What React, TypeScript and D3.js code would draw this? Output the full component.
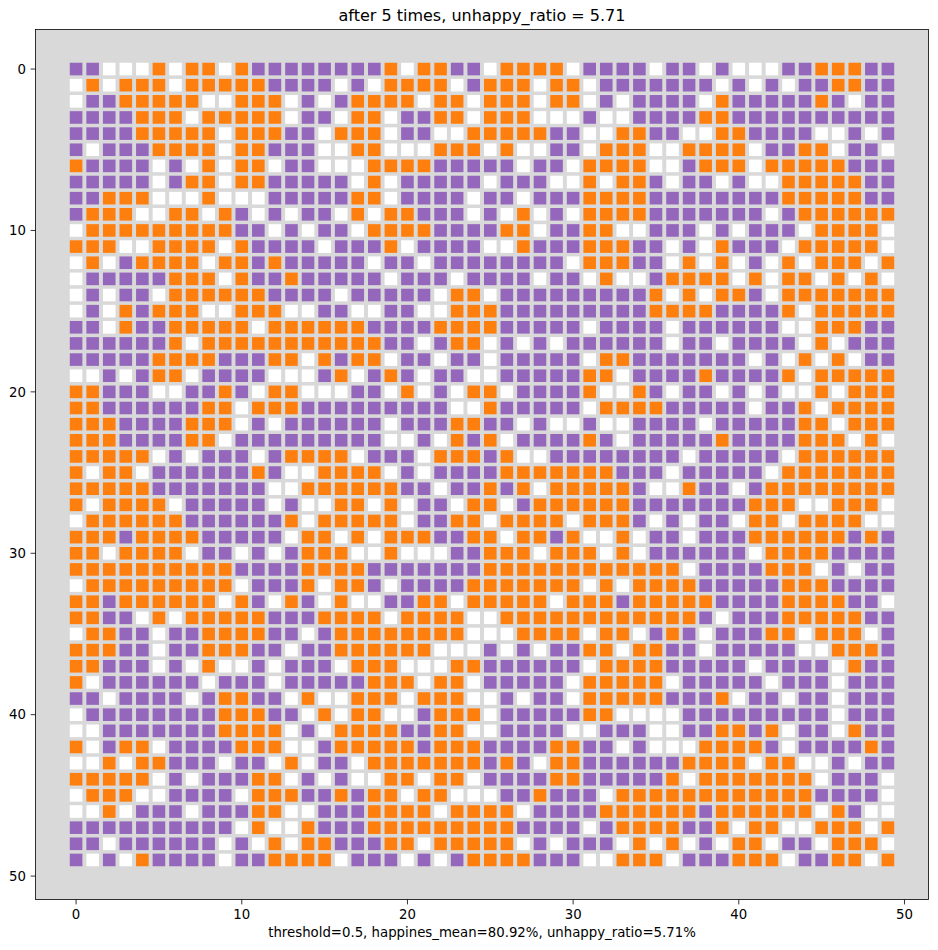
import React from "react";
import * as d3 from "d3";

// P = purple group, O = orange group, W = empty cell
const row00_12: string[] = [
  "PPWWWOWOOWOPPPPPP"+"PPOWOOPPWOOOOWPPP"+"PWPPWPWWWPPOOOPP",
  "WOWOOOWOOOOOPPPPW"+"PWOOOOWPOOOWOOWPP"+"PPPPPWPWPWPPOOPP",
  "WPPOOOOOWWOOOWPWP"+"OOOOWOOWOOOWOOWPW"+"PPPPWOPPPPPOPWPP",
  "PPPPOOOWOOOOOWPPW"+"OOWPPOOWOOOWWWPWW"+"PPPPOOPPPPPPPPPP",
  "PPPPOOOOOWOOOPPWO"+"OOWPPWWOOOOOPPWWO"+"OPPWWOOPPPPWWPWP",
  "PWPPPOOOOWOOPPPWW"+"OOWWWOOOWOWWPPWOO"+"OWWOOOOWPPOOWPPW",
  "OPPPPWPWOWOOWPPWW"+"WOOOOPPPPPWPPWOOO"+"OWWPOOOWOOOOOPPP",
  "PPPPPWPOOWOOPPPPP"+"WOWPPPPPWPPPWWOWO"+"OPWPPWPWWOOOOOPP",
  "PPOOOWWWOWWWPPPPP"+"OOWPPPPWPPWPPPOOO"+"OPPPPPPPPOOOOOPP",
  "POOOWWOOWOPWPWPPW"+"OWOOPPPWPWOWPWOOO"+"OPPPPPPPWPOOOOOO",
  "WOOOOOOOOOPPWPWPP"+"WOOOOPPPPOOWPPOOW"+"WPPPWPWPPPWOOOOW",
  "OOOWWOOOOWOPPPPWP"+"PPOWPPPPWWOPPPOOO"+"PPWPWOPPPWOOOOOW",
  "WOWPOOOOWOOPOPPPP"+"PWPPWPPPPPPPPWOOO"+"PPWOWOWPWOWOOOWO",
];
const row13_25: string[] = [
  "WPPPPPOOOWOPPOPPP"+"PPWPPPWPPPPWPPWOW"+"WPOOOOWOWOOWOWOW",
  "WPWPPWOOOOOOPPPPW"+"PPPPPWOOWPPPPPPPP"+"POWOWOOPWOOOOOOO",
  "WPWOPOOOWWOOOWWPP"+"WWPPWWOOOPPPPPPPP"+"POOOOPPPPOWOOOOO",
  "PPWOPPOOOOOWOOOOO"+"OPPPPOOOOPPPPPWPP"+"PPWPPPPPPWWOOOPP",
  "PPPPPPOWOOOOOOOOO"+"OOPPWPOOWPWPWPPPP"+"PPWPPWPPPPWOWPPP",
  "PPPPPOOOOPPPOOWOP"+"OOWPPWPPWPPPPPWOO"+"PPPPPPPWPWOWOWPP",
  "WWPWPOOWPPPPWWWPO"+"WPOPWPPWWPPPPPOOW"+"PPPPOPPPPOWOOOOO",
  "OOPPPWWPPOPWOOWWW"+"PPWOWPWOOWPPPPOWW"+"OPWPPWPWPWWOWOOO",
  "OOPPPPPPOOWOOOPPP"+"PPPPPPWWOPPPPPWOO"+"OOPPPPPWPPOWOOOO",
  "OOOPPPPOOOWPWPPPP"+"PPWPPPOOPPWPWWPWW"+"PPPPWPPPPPOOWOOO",
  "OOOPPPPOOWPPPPPPP"+"PPWWPWOPOWPPPPOPW"+"PPPPPOPPPPOOOWOW",
  "OOOOOWPWPPPWPOOOO"+"WPPPWOOOPOWWPPPPP"+"PPPWPPPPPWOOOOOO",
  "OWOOWPPPPPPOPWWOO"+"OOWPWPPPPOOOOOOOP"+"PPWPPPPPWOOOOOOO",
];
const row26_37: string[] = [
  "OOOOOPPPPPPPWWOOO"+"OOOPPWPPOPOWOOOOO"+"PWWOPPWPOOOOOOOO",
  "OWOOOOWPPPPPWPWWO"+"OWOWPPWOOWPOOOOOO"+"PPPPPPPOOOWWOOOW",
  "WOOOOOOPPPPPPOWOO"+"OOOWPPOOWOOOOWOOO"+"PWPWPPWOOWOOOOWW",
  "OOOPOOOOPPPPPWOOW"+"OWOOOPPOOWOOPOWWO"+"WPPWPPPOOOOOOPOP",
  "OOWOOOOWPPWPWPOOO"+"WWOWWWPPOOOWOOOWO"+"WPPPPPPWOOOOPPPP",
  "OOOOOOOOOOPPPPOOO"+"OPPPPPPPOOOOOOOOO"+"OOOWPPPPOOOWPWPP",
  "WOOOOOOOOOWPPPOWO"+"OPWPPPPOOOOOOOWOW"+"OOOOPPPPPOOOPPPP",
  "OOPOOOOOOWOPWOPWO"+"WWPPOOWOOOOOWOOOP"+"OOOOOPPPPOOOOPPW",
  "OOPPWOWOOOOOPPPOO"+"OOWOOOOWWOOOOOOOO"+"OOOOPWPPPOOOOOPP",
  "WOOPPWPPOOOOPPWPO"+"OOOOOOOWWWOOOOWOO"+"WPOPWPPPOOWOOOWP",
  "OOOPPWPPOOOPPWPPO"+"OOOOOWWWPWPWPPOOW"+"OOPPWPPPPPWWOOOP",
  "OOPPPWPWOWWPWPPPW"+"OOOWWWOOPPPPPPWOO"+"OOPPPPPWPPPPWOPP",
];
const row38_49: string[] = [
  "OWPPPPPPWPPPWPPPP"+"POOOWOOWPPPPPWOOO"+"OOWPPPPPWPPPWPPP",
  "PPWPPPPWPOOPPWOWW"+"OOOWOOOWWPWPPWOOO"+"OOPPPOWPPWPPWPPP",
  "WPPPPPPPPOOOPPWOW"+"OOWWPOOOWPPPPPOOW"+"WWWPPPPPPPPPWPPP",
  "WWPPPPPPPOOOOWPWO"+"OOOPPOOWWPPPPWWPP"+"PWWPPOOPOWPPWOPP",
  "OWPOOWPPPPOOOWWPO"+"OOOOPOOOPPPPOOPPW"+"PWWWOOOOPWPPPPOP",
  "WWOWOOPPPWPPWOWPP"+"WOOOOOOOPOPWOOPPP"+"PPPOOOOWOOWWPWPP",
  "OOOOOWPWPPPOOWPWP"+"WWOOWOOWPPPPOOPPP"+"PPOWOOOOOOOWPPPW",
  "WOOOWWPPPPWOOOPPO"+"POOWOOWWWPPOPPPWO"+"OOOOOOOOOOOPPPPW",
  "WWOWPPPWPPPOOWWPP"+"POOOOWOOOOWPPPPOO"+"OOOOPOOOOOOWOPWW",
  "PPPPPPPPPPWOWWOPP"+"POOOOOOOOOPPPPWPO"+"OOOPPOWOOWWOOOWO",
  "PPWPPPPPPWPWOWOOP"+"PPOOWOOOOOWPWPPPW"+"OWOWPWOOWPPWOOOW",
  "PWPWOPPPPWPPOOOOW"+"PPPWPWPOOOOPPPWWO"+"OOWPPPOOOWPPOOWO",
];
const rows: string[] = [...row00_12, ...row13_25, ...row26_37, ...row38_49];

const xTicks = [0, 10, 20, 30, 40, 50];
const yTicks = [0, 10, 20, 30, 40, 50];
const colors: Record<string, string> = { P: "#9467bd", O: "#ff7f0e", W: "#ffffff" };
const titleText = "after 5 times, unhappy_ratio = 5.71";
const xLabelText = "threshold=0.5, happines_mean=80.92%, unhappy_ratio=5.71%";

const left = 35.5, right = 928.5, top = 29.5, bottom = 899.5;
const font = "'DejaVu Sans', sans-serif";

export default function App() {
  const x = d3.scaleLinear().domain([-2.45, 51.45]).range([left, right]);
  const y = d3.scaleLinear().domain([-2.45, 51.45]).range([top, bottom]);
  const size = 12.6;
  return (
    <svg width={938} height={950} style={{ position: "absolute", left: 0, top: 0, background: "#fff" }} fontFamily={font}>
      <rect x={left} y={top} width={right - left} height={bottom - top} fill="#d9d9d9" stroke="#000" strokeWidth={0.8} />
      {rows.map((row, r) =>
        row.split("").map((c, i) => (
          <rect key={r + "-" + i} x={x(i) - size / 2} y={y(r) - size / 2} width={size} height={size} fill={colors[c]} />
        ))
      )}
      {xTicks.map((t) => (
        <g key={"x" + t} transform={`translate(${x(t)},${bottom})`}>
          <line y2={4.9} stroke="#000" strokeWidth={0.8} />
          <text y={19} textAnchor="middle" fontSize={13.3} fill="#000">{t}</text>
        </g>
      ))}
      {yTicks.map((t) => (
        <g key={"y" + t} transform={`translate(${left},${y(t)})`}>
          <line x2={-4.9} stroke="#000" strokeWidth={0.8} />
          <text x={-9.5} y={4.8} textAnchor="end" fontSize={13.3} fill="#000">{t}</text>
        </g>
      ))}
      <text x={(left + right) / 2} y={20.5} textAnchor="middle" fontSize={16} fill="#000">{titleText}</text>
      <text x={(left + right) / 2} y={936.5} textAnchor="middle" fontSize={13.3} fill="#000">{xLabelText}</text>
    </svg>
  );
}
